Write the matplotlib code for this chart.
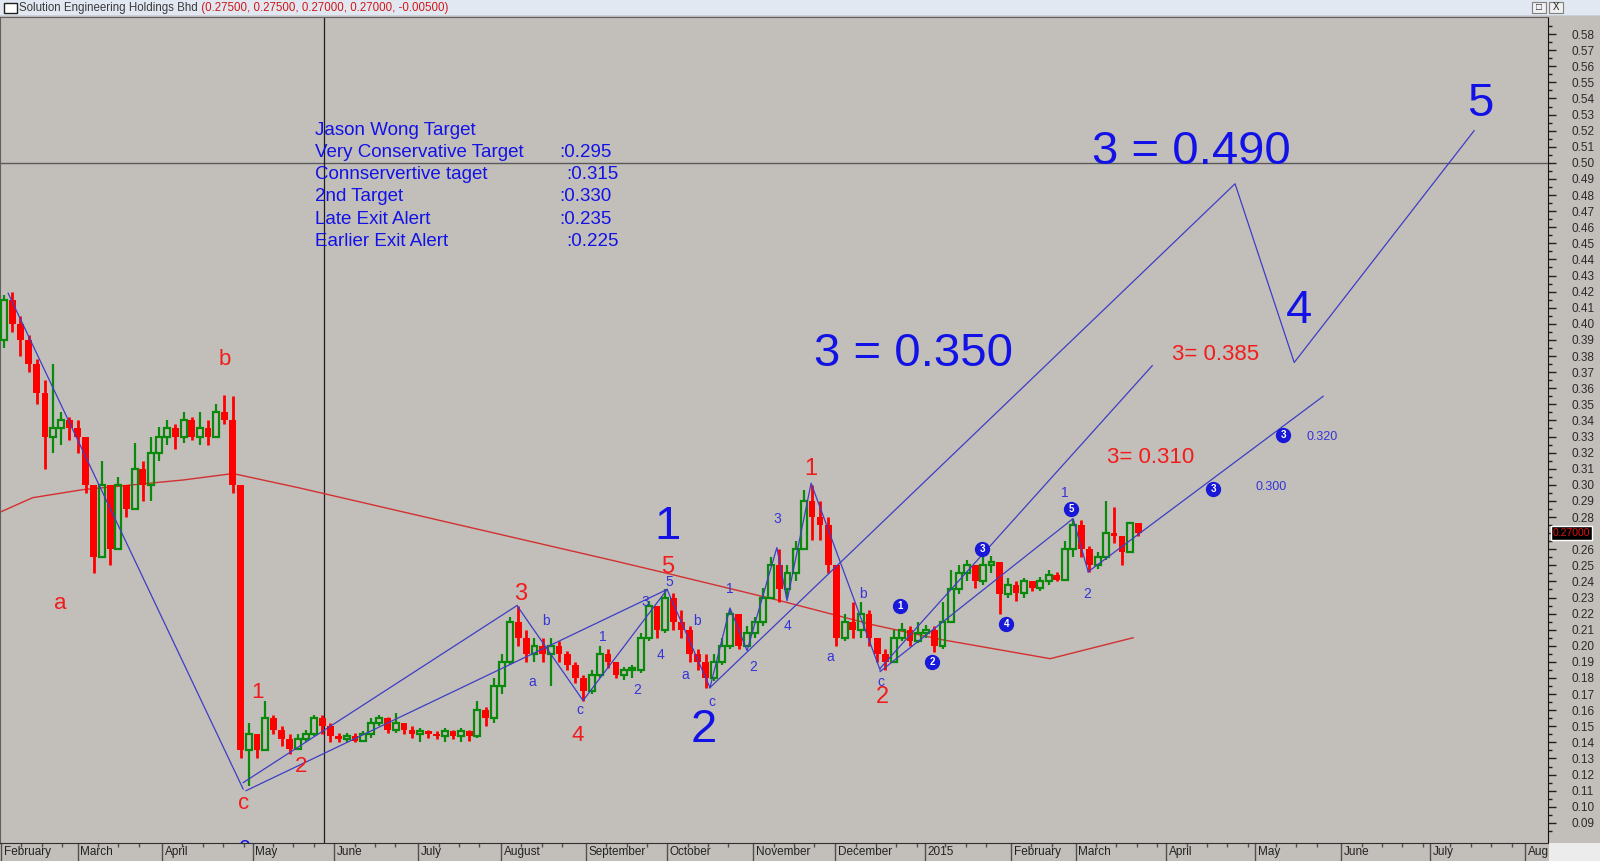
import numpy as np
import matplotlib
matplotlib.use('Agg')
import matplotlib.pyplot as plt
from matplotlib.patches import Rectangle
from matplotlib.transforms import ScaledTranslation, blended_transform_factory

plt.rcParams['font.family'] = ['Liberation Sans', 'DejaVu Sans']

# price bars, one bar per two trading days (x = 2*i + 1 trading days from Feb 2014)
first_open = 0.390
closes = [
    0.415, 0.400, 0.390, 0.375, 0.357, 0.330, 0.335, 0.340, 0.335, 0.330,
    0.300, 0.255, 0.300, 0.260, 0.300, 0.285, 0.310, 0.300, 0.320, 0.330,
    0.335, 0.330, 0.340, 0.330, 0.335, 0.330, 0.345, 0.340, 0.300, 0.135,
    0.145, 0.135, 0.155, 0.148, 0.142, 0.136, 0.142, 0.145, 0.155, 0.150,
    0.144, 0.142, 0.144, 0.141, 0.145, 0.152, 0.155, 0.148, 0.152, 0.148,
    0.145, 0.147, 0.145, 0.144, 0.147, 0.144, 0.147, 0.144, 0.160, 0.155,
    0.175, 0.190, 0.215, 0.205, 0.195, 0.200, 0.195, 0.200, 0.195, 0.188,
    0.180, 0.172, 0.182, 0.195, 0.190, 0.182, 0.185, 0.185, 0.205, 0.225,
    0.210, 0.230, 0.215, 0.210, 0.195, 0.190, 0.180, 0.190, 0.200, 0.220,
    0.200, 0.208, 0.215, 0.230, 0.250, 0.235, 0.245, 0.260, 0.290, 0.280,
    0.275, 0.250, 0.205, 0.215, 0.210, 0.220, 0.205, 0.195, 0.190, 0.205,
    0.210, 0.203, 0.208, 0.210, 0.200, 0.215, 0.235, 0.245, 0.250, 0.240,
    0.250, 0.252, 0.232, 0.238, 0.233, 0.240, 0.236, 0.240, 0.244, 0.241,
    0.260, 0.275, 0.260, 0.250, 0.255, 0.270, 0.268, 0.258, 0.276, 0.270,
]
highs = [
    0.418, 0.420, 0.405, 0.393, 0.378, 0.365, 0.375, 0.345, 0.342, 0.340,
    0.326, 0.295, 0.315, 0.300, 0.305, 0.300, 0.326, 0.315, 0.330, 0.336,
    0.340, 0.338, 0.345, 0.342, 0.345, 0.340, 0.350, 0.356, 0.355, 0.300,
    0.152, 0.145, 0.166, 0.157, 0.150, 0.145, 0.145, 0.148, 0.157, 0.157,
    0.152, 0.146, 0.146, 0.146, 0.147, 0.155, 0.157, 0.156, 0.158, 0.152,
    0.150, 0.149, 0.148, 0.147, 0.149, 0.148, 0.149, 0.148, 0.166, 0.162,
    0.180, 0.195, 0.218, 0.225, 0.210, 0.205, 0.205, 0.205, 0.203, 0.197,
    0.190, 0.182, 0.185, 0.200, 0.198, 0.190, 0.187, 0.188, 0.208, 0.228,
    0.225, 0.235, 0.233, 0.222, 0.212, 0.198, 0.195, 0.195, 0.205, 0.222,
    0.218, 0.212, 0.218, 0.236, 0.255, 0.260, 0.250, 0.265, 0.297, 0.300,
    0.290, 0.280, 0.250, 0.220, 0.227, 0.227, 0.222, 0.205, 0.198, 0.210,
    0.214, 0.212, 0.215, 0.213, 0.212, 0.227, 0.247, 0.250, 0.253, 0.248,
    0.255, 0.256, 0.250, 0.242, 0.240, 0.242, 0.240, 0.243, 0.247, 0.246,
    0.265, 0.279, 0.278, 0.262, 0.258, 0.290, 0.286, 0.266, 0.277, 0.276,
]
lows = [
    0.385, 0.395, 0.380, 0.370, 0.350, 0.310, 0.320, 0.325, 0.328, 0.320,
    0.295, 0.245, 0.255, 0.250, 0.265, 0.280, 0.285, 0.290, 0.290, 0.315,
    0.325, 0.322, 0.326, 0.328, 0.325, 0.325, 0.330, 0.338, 0.295, 0.130,
    0.113, 0.130, 0.135, 0.145, 0.138, 0.133, 0.135, 0.140, 0.144, 0.145,
    0.140, 0.140, 0.140, 0.140, 0.140, 0.143, 0.150, 0.146, 0.146, 0.145,
    0.143, 0.140, 0.143, 0.142, 0.140, 0.142, 0.140, 0.141, 0.143, 0.150,
    0.152, 0.170, 0.188, 0.200, 0.190, 0.190, 0.190, 0.175, 0.190, 0.185,
    0.177, 0.166, 0.170, 0.180, 0.186, 0.180, 0.179, 0.180, 0.183, 0.203,
    0.205, 0.208, 0.210, 0.205, 0.190, 0.185, 0.174, 0.178, 0.188, 0.198,
    0.198, 0.200, 0.205, 0.212, 0.230, 0.227, 0.230, 0.240, 0.260, 0.266,
    0.266, 0.245, 0.200, 0.203, 0.205, 0.205, 0.200, 0.190, 0.185, 0.190,
    0.203, 0.200, 0.202, 0.205, 0.196, 0.198, 0.215, 0.232, 0.240, 0.236,
    0.238, 0.245, 0.220, 0.230, 0.228, 0.230, 0.234, 0.234, 0.238, 0.240,
    0.240, 0.255, 0.255, 0.246, 0.248, 0.253, 0.264, 0.250, 0.258, 0.268,
]

# long moving average (trading day, price)
ma_days = [0, 8, 20.3, 32.6, 44.9, 57.1, 73.5, 150.2, 163.5, 191.2, 214, 230.4, 257.4, 277.7]
ma_vals = [0.283, 0.292, 0.297, 0.300, 0.303, 0.307, 0.298, 0.253, 0.245, 0.228, 0.213, 0.204, 0.192, 0.205]

# blue wave lines (trading day, price)
wave_lines = [
    ([2.0, 59.6], [0.419, 0.111]),
    ([59.6, 126.7], [0.115, 0.225]),
    ([60.3, 163.5], [0.110, 0.235]),
    ([126.7, 142.9, 163.5], [0.225, 0.166, 0.235]),
    ([163.5, 174.0], [0.235, 0.174]),
    ([174.0, 178.9, 183.1, 190.4, 192.9, 198.8, 215.7],
     [0.174, 0.2235, 0.197, 0.261, 0.228, 0.301, 0.185]),
    ([174.0, 302.7, 317.2, 361.3], [0.174, 0.487, 0.376, 0.520]),
    ([215.7, 282.4], [0.186, 0.374]),
    ([215.7, 263.0, 266.7], [0.184, 0.279, 0.246]),
    ([266.7, 324.3], [0.246, 0.355]),
]

month_labels = ['February', 'March', 'April', 'May', 'June', 'July', 'August',
                'September', 'October', 'November', 'December', '2015', 'February',
                'March', 'April', 'May', 'June', 'July', 'Aug']
month_pos = [0.25, 19.0, 39.7, 61.9, 81.9, 102.5, 122.8, 143.6, 163.5, 184.6, 204.7,
             226.7, 247.8, 263.6, 285.8, 307.7, 328.7, 350.5, 373.7]

red_labels = [('a', 14.7, 0.226, 16), ('b', 55.0, 0.378, 16), ('c', 59.6, 0.102, 16),
              ('1', 63.2, 0.171, 16), ('2', 73.8, 0.125, 16), ('3', 127.7, 0.232, 17),
              ('4', 141.5, 0.144, 16), ('5', 163.7, 0.249, 17), ('1', 198.8, 0.310, 17),
              ('2', 216.2, 0.168, 17), ('3= 0.310', 282.1, 0.317, 16),
              ('3= 0.385', 298.0, 0.381, 16)]
big_blue = [('1', 163.5, 0.274), ('2', 172.5, 0.148), ('3 = 0.350', 224.0, 0.381),
            ('3 = 0.490', 291.9, 0.507), ('4', 318.4, 0.408), ('5', 362.7, 0.5365)]
small_blue = [('a', 130.4, 0.1775), ('b', 133.8, 0.2154), ('c', 142.2, 0.160),
              ('1', 147.8, 0.2055), ('2', 156.1, 0.1725), ('3', 158.1, 0.227),
              ('4', 161.8, 0.194), ('5', 164.0, 0.2396), ('a', 167.9, 0.182),
              ('b', 170.8, 0.2154), ('c', 174.5, 0.165), ('1', 178.9, 0.235),
              ('2', 184.6, 0.187), ('3', 190.4, 0.279), ('4', 193.1, 0.212),
              ('a', 203.4, 0.193), ('b', 211.5, 0.232), ('c', 215.9, 0.1775),
              ('1', 261.0, 0.295), ('2', 266.4, 0.232)]
small_values = [('0.320', 320.3, 0.3297), ('0.300', 307.8, 0.2986)]
circled = [('1', 220.6, 0.2247), ('2', 228.4, 0.190), ('3', 240.7, 0.260),
           ('4', 246.6, 0.2135), ('5', 262.5, 0.285), ('3', 297.3, 0.2974),
           ('3', 314.5, 0.331)]

target_names = ['Jason Wong Target', 'Very Conservative Target', 'Connservertive taget',
                '2nd Target', 'Late Exit Alert', 'Earlier Exit Alert']
target_values = ['', ':0.295', ':0.315', ':0.330', ':0.235', ':0.225']
target_rows = [0.5204, 0.5067, 0.4930, 0.4788, 0.4651, 0.4514]
target_value_x = [137.0, 137.0, 138.8, 137.0, 137.0, 138.8]

last_price = 0.27

BG = '#c2beba'
BLUE = '#1212e6'
LINE_BLUE = '#3e3ec4'
RED_TXT = '#f21c1c'

W, H = 1600, 861
fig = plt.figure(figsize=(16, 8.61), dpi=100, facecolor=BG)

# main chart area
ax = fig.add_axes([0, 18 / H, 1548 / W, 826 / H])
ax.set_facecolor(BG)
ax.set_xlim(0, 379.4)
ax.set_ylim(0.0775, 0.5906)

n = len(closes)
x = 2 * np.arange(n) + 1
c = np.array(closes)
o = np.array([first_open] + closes[:-1])
hi = np.maximum(np.array(highs), np.maximum(o, c))
lo = np.minimum(np.array(lows), np.minimum(o, c))
top = np.maximum(o, c)
bot = np.minimum(o, c)
hgt = np.maximum(top - bot, 0.0015)
up = c >= o
dn = ~up

ax.plot(ma_days, ma_vals, color='#d43030', lw=1.0, zorder=2)

ax.vlines(x[dn], lo[dn], hi[dn], color='#ff0000', lw=2.0, zorder=3)
ax.bar(x[dn], hgt[dn], bottom=bot[dn], width=1.65, color='#ff0000', lw=0, zorder=3)
ax.vlines(x[up], lo[up], bot[up], color='#0a8a0a', lw=1.6, zorder=3)
ax.vlines(x[up], top[up], hi[up], color='#0a8a0a', lw=1.6, zorder=3)
ax.bar(x[up], hgt[up], bottom=bot[up], width=1.45, fill=False, edgecolor='#0a8a0a',
       lw=1.6, zorder=3)

for xs, ys in wave_lines:
    ax.plot(xs, ys, color=LINE_BLUE, lw=0.9, zorder=4)

# crosshair
ax.axhline(0.50, color='#5a5a5a', lw=1.0, zorder=1)
ax.axvline(79.4, color='#1e1e1e', lw=0.9, zorder=1)

for t, xx, yy, fs in red_labels:
    ax.text(xx, yy, t, color=RED_TXT, fontsize=fs, ha='center', va='center', zorder=5)
for t, xx, yy in big_blue:
    ax.text(xx, yy, t, color=BLUE, fontsize=34, ha='center', va='center', zorder=5)
for t, xx, yy in small_blue:
    ax.text(xx, yy, t, color='#3434d8', fontsize=10, ha='center', va='center', zorder=5)
for t, xx, yy in small_values:
    ax.text(xx, yy, t, color='#3434d8', fontsize=9, ha='left', va='center', zorder=5)
for t, xx, yy in circled:
    ax.plot(xx, yy, 'o', ms=10, color='#1818d8', mec='#1818d8', zorder=5)
    ax.text(xx, yy, t, color='white', fontsize=7, fontweight='bold', ha='center',
            va='center', zorder=6)
ax.text(60.0, 0.0755, 'c', color=BLUE, fontsize=16, ha='center', va='center',
        zorder=5, clip_on=True)

for name, val, yy, vx in zip(target_names, target_values, target_rows, target_value_x):
    ax.text(77.2, yy, name, color=BLUE, fontsize=13.5, ha='left', va='center', zorder=5)
    if val:
        ax.text(vx, yy, val, color=BLUE, fontsize=13.5, ha='left', va='center', zorder=5)

# right price axis; the 0.27 level is covered by the last-price box
ax.yaxis.tick_right()
yt = np.round(np.arange(0.09, 0.585, 0.01), 2)
ax.set_yticks(yt, ['' if abs(v - last_price) < 1e-6 else f'{v:.2f}' for v in yt])
ax.set_yticks(np.round(np.arange(0.085, 0.59, 0.01), 3), minor=True)
ax.tick_params(axis='y', which='major', length=6, width=1, color='#202020', pad=11,
               labelsize=8.5, labelcolor='#2a2a2a', direction='out')
ax.tick_params(axis='y', which='minor', length=3, width=1, color='#202020', direction='out')

# bottom month axis
ax.set_xticks(month_pos, month_labels)
minor_x = []
edges = month_pos + [379.4]
for a, b in zip(edges[:-1], edges[1:]):
    minor_x += list(np.arange(a + 5, b - 1.5, 5))
ax.set_xticks(minor_x, minor=True)
ax.tick_params(axis='x', which='major', length=13, width=1, color='#505050', pad=-10.5,
               labelsize=8.5, labelcolor='#222222', direction='out')
ax.tick_params(axis='x', which='minor', length=3, width=1, color='#505050', direction='out')
off = ScaledTranslation(2 / 72, 0, fig.dpi_scale_trans)
for lab in ax.get_xticklabels():
    lab.set_ha('left')
    lab.set_transform(lab.get_transform() + off)

for side in ['left', 'top']:
    ax.spines[side].set_color('#606060')
ax.spines['right'].set_color('#101010')
ax.spines['bottom'].set_color('#303030')

# last price box
tr = blended_transform_factory(ax.transAxes, ax.transData)
ax.text(1.003, last_price, f'{last_price:.5f}', transform=tr, ha='left', va='center',
        fontsize=7.5, color='#e01010', zorder=10, clip_on=False,
        bbox=dict(boxstyle='square,pad=0.2', fc='black', ec='white', lw=1))

# window chrome
bar = fig.add_axes([0, 1 - 16 / H, 1, 16 / H])
bar.set_xlim(0, W)
bar.set_ylim(16, 0)
bar.axis('off')
bar.add_patch(Rectangle((0, 0), W, 16, fc='#e2e8f1', ec='none'))
bar.plot([0, W], [15.5, 15.5], color='#707070', lw=1)
bar.add_patch(Rectangle((4, 3), 13, 10, fc='white', ec='#202020', lw=1))
t1 = bar.text(19, 8, 'Solution Engineering Holdings Bhd', fontsize=8.3, color='#3a3a3a',
              va='center', ha='left')
bar.annotate(' (0.27500, 0.27500, 0.27000, 0.27000, -0.00500)', xy=(1, 0.5),
             xycoords=t1, fontsize=8.3, color='#d01818', va='center', ha='left')
bar.add_patch(Rectangle((1532, 2), 14, 11, fc='#f0f0f0', ec='#808080', lw=0.8))
bar.add_patch(Rectangle((1549, 2), 14, 11, fc='#f0f0f0', ec='#808080', lw=0.8))
bar.text(1539, 7.5, '\u25a1', fontsize=7, ha='center', va='center', color='#202020')
bar.text(1556, 7.5, 'X', fontsize=7, ha='center', va='center', color='#202020')

corner = fig.add_axes([1549 / W, 0, 51 / W, 18 / H])
corner.axis('off')
corner.add_patch(Rectangle((0, 0), 1, 1, transform=corner.transAxes, fc='#ececec', ec='none'))

fig.savefig('out.png', dpi=100, facecolor=BG)
